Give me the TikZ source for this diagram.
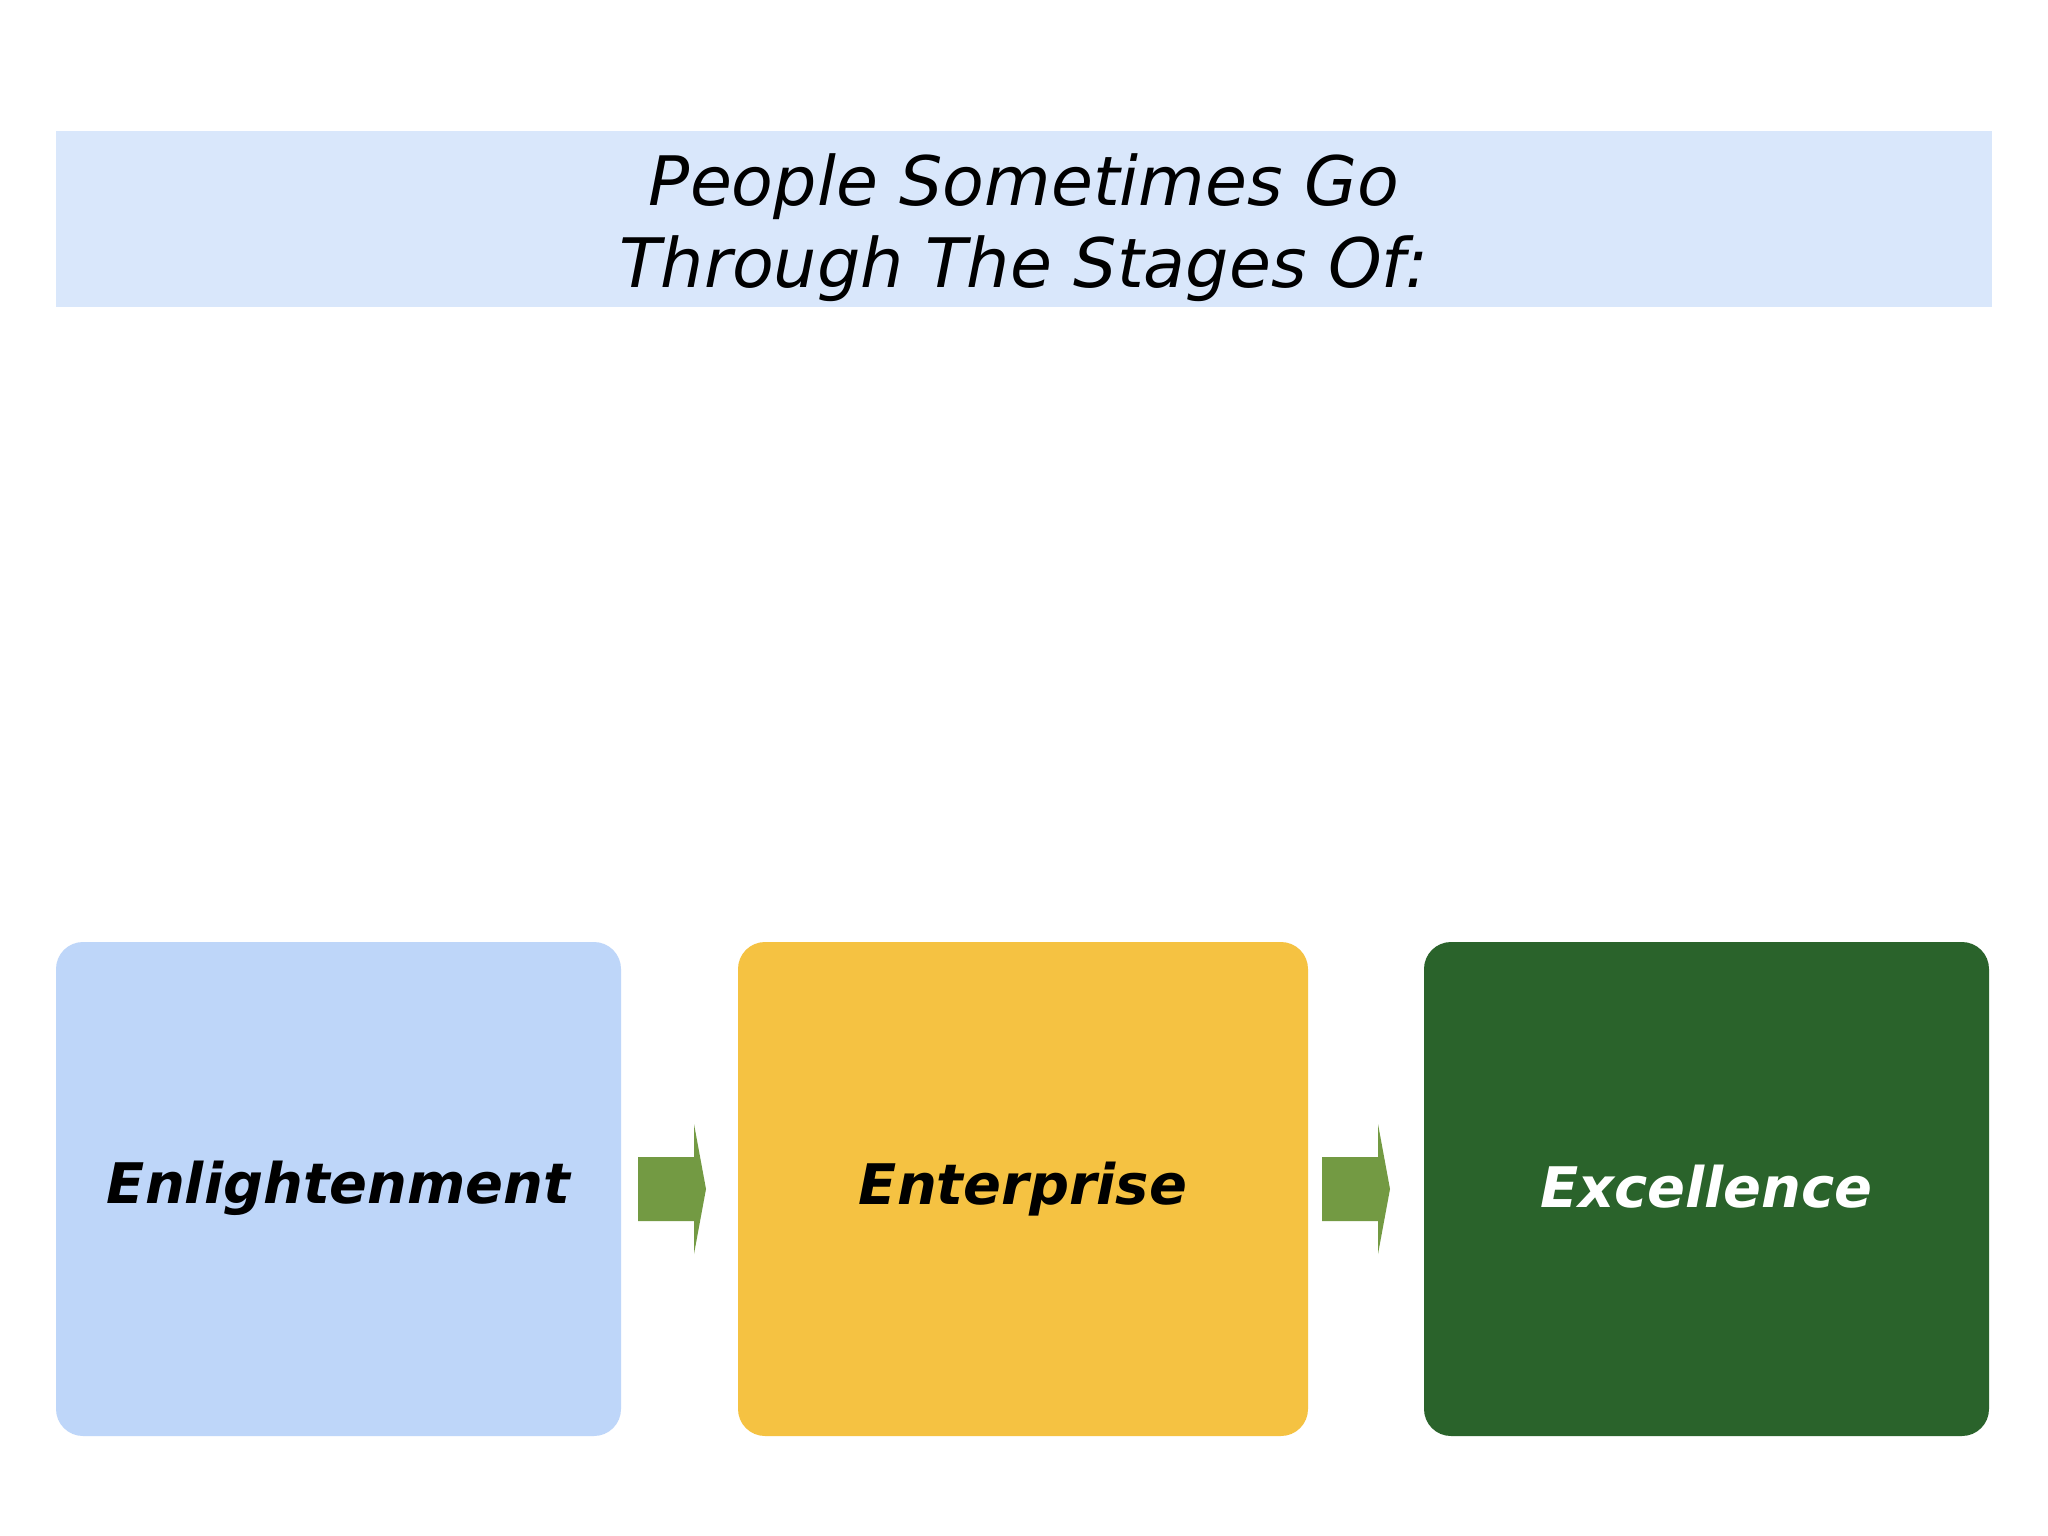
\documentclass[tikz,border=0pt]{standalone}
\usepackage{fontspec}
\setmainfont{DejaVu Sans}
\definecolor{bandblue}{HTML}{D9E7FB}
\definecolor{boxblue}{HTML}{BED6F9}
\definecolor{boxgold}{HTML}{F5C242}
\definecolor{boxgreen}{HTML}{2A632B}
\definecolor{arrowgreen}{HTML}{739A43}
\begin{document}
\begin{tikzpicture}[x=0.01cm,y=-0.01cm,
  stagebox/.style={rounded corners=0.27cm,inner sep=0pt,font=\fontsize{15.9}{19}\selectfont\bfseries\itshape},
  blockarrow/.style={fill=arrowgreen,draw=none}]
\useasboundingbox (0,0) rectangle (2048,1536);
\fill[white] (0,0) rectangle (2048,1536);
\fill[bandblue] (56,131) rectangle (1992,307);
\node[align=center,font=\fontsize{19.4}{23.3}\selectfont\itshape] (title) at (1024,228) {People Sometimes Go\\Through The Stages Of:};
\fill[boxblue,rounded corners=0.27cm] (56,942) rectangle (621,1436);
\fill[boxgold,rounded corners=0.27cm] (738,942) rectangle (1308,1436);
\fill[boxgreen,rounded corners=0.27cm] (1424,942) rectangle (1989,1436);
\node[stagebox] (s1) at (338.5,1188) {Enlightenment};
\node[stagebox] (s2) at (1023,1189) {Enterprise};
\node[stagebox,text=white] (s3) at (1706.5,1187) {Excellence};
\coordinate (a1) at (638,1189);
\coordinate (a2) at (1322,1189);
\foreach \a in {a1,a2}{
  \fill[blockarrow] (\a) ++(0,-32) -- ++(56,0) -- ++(0,-33) -- ++(12,65) -- ++(-12,65) -- ++(0,-33) -- ++(-56,0) -- cycle;
}
\end{tikzpicture}
\end{document}
